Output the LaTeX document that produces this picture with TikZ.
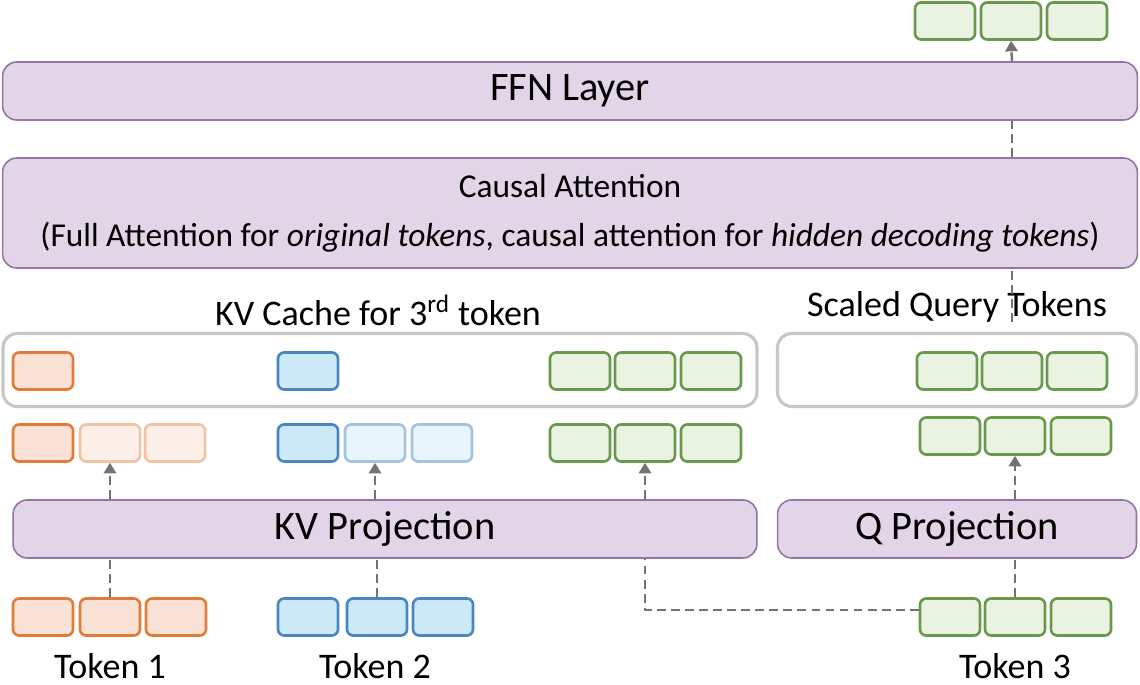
\documentclass[tikz,border=0pt]{standalone}
\usepackage{fontspec}
\setmainfont{Carlito}
\usetikzlibrary{arrows.meta}
\definecolor{layerfill}{HTML}{E1D5E7}
\definecolor{layerdraw}{HTML}{9673A6}
\definecolor{orgdraw}{HTML}{E07B39}
\definecolor{orgfill}{HTML}{FAE3D6}
\definecolor{bludraw}{HTML}{4A86C0}
\definecolor{blufill}{HTML}{CCE9F8}
\definecolor{grndraw}{HTML}{6A994E}
\definecolor{grnfill}{HTML}{EAF3E2}
\tikzset{
  layer/.style={rectangle,rounded corners=8pt,draw=layerdraw,fill=layerfill,line width=0.9pt,inner sep=0pt},
  cachebox/.style={rectangle,rounded corners=8pt,draw=black!22,line width=1.8pt,inner sep=0pt},
  cell/.style={rectangle,rounded corners=3.5pt,line width=1.5pt,minimum width=1.2cm,minimum height=0.74cm,inner sep=0pt},
  org/.style={cell,draw=orgdraw,fill=orgfill},
  orgl/.style={cell,draw=orgdraw!45,fill=orgfill!55},
  blu/.style={cell,draw=bludraw,fill=blufill},
  blul/.style={cell,draw=bludraw!50,fill=blufill!45},
  grn/.style={cell,draw=grndraw,fill=grnfill},
  flow/.style={draw=black!55,line width=1.4pt,dash pattern=on 5pt off 3pt},
  tip/.style={-{Triangle[length=6pt,width=7pt]}}
}
\newcommand{\cellat}[4]{\node[#1] (#2) at (#3,#4) {};}
\begin{document}
\begin{tikzpicture}[x=0.02cm,y=-0.02cm]
\useasboundingbox (0,0) rectangle (1140,685);
% layers
\node[layer,minimum width=22.7cm,minimum height=1.16cm] (ffn) at (570,91) {\fontsize{23}{26}\selectfont FFN Layer};
\node[layer,minimum width=22.7cm,minimum height=2.2cm,align=center,font=\fontsize{19}{26}\selectfont] (attn) at (570,213)
  {Causal Attention\\[2pt]
   (Full Attention for \emph{original tokens}, causal attention for \emph{hidden decoding tokens})};
\node[layer,minimum width=14.88cm,minimum height=1.16cm] (kvproj) at (385,529) {\fontsize{23}{26}\selectfont KV Projection};
\node[layer,minimum width=7.18cm,minimum height=1.16cm] (qproj) at (957,529) {\fontsize{23}{26}\selectfont Q Projection};
% caches
\node[cachebox,minimum width=15.08cm,minimum height=1.46cm] (kvcache) at (380,370) {};
\node[cachebox,minimum width=7.18cm,minimum height=1.46cm] (qcache) at (957,370) {};
\node (kvlabel) at (378,310) {\fontsize{20.5}{24}\selectfont KV Cache for 3\textsuperscript{rd} token};
\node (qlabel) at (957,307) {\fontsize{20.5}{24}\selectfont Scaled Query Tokens};
% cells in cache
\cellat{org}{c1}{43}{371}
\cellat{blu}{c2}{308}{371}
\cellat{grn}{c3a}{580}{371}
\cellat{grn}{c3b}{645}{371}
\cellat{grn}{c3c}{711}{371}
\cellat{grn}{qa}{947}{371}
\cellat{grn}{qb}{1012}{371}
\cellat{grn}{qc}{1077}{371}
% projected cells
\cellat{org}{k1a}{43}{443}
\cellat{orgl}{k1b}{110}{443}
\cellat{orgl}{k1c}{175}{443}
\cellat{blu}{k2a}{308}{443}
\cellat{blul}{k2b}{375}{443}
\cellat{blul}{k2c}{442}{443}
\cellat{grn}{k3a}{580}{443}
\cellat{grn}{k3b}{645}{443}
\cellat{grn}{k3c}{711}{443}
\cellat{grn}{pa}{950}{436}
\cellat{grn}{pb}{1015}{436}
\cellat{grn}{pc}{1081}{436}
% input tokens
\cellat{org}{t1a}{43}{617}
\cellat{org}{t1b}{110}{617}
\cellat{org}{t1c}{176}{617}
\cellat{blu}{t2a}{308}{617}
\cellat{blu}{t2b}{377}{617}
\cellat{blu}{t2c}{443}{617}
\cellat{grn}{t3a}{950}{617}
\cellat{grn}{t3b}{1015}{617}
\cellat{grn}{t3c}{1081}{617}
% output tokens
\cellat{grn}{oa}{945}{21}
\cellat{grn}{ob}{1011}{21}
\cellat{grn}{oc}{1077}{21}
\node (tok1) at (110,666) {\fontsize{20.5}{24}\selectfont Token 1};
\node (tok2) at (375,666) {\fontsize{20.5}{24}\selectfont Token 2};
\node (tok3) at (1015,666) {\fontsize{20.5}{24}\selectfont Token 3};
% connectors
\draw[flow] (t1b.north) -- (kvproj.south -| t1b);
\draw[flow,tip] (kvproj.north -| k1b) -- (k1b.south);
\draw[flow] (t2b.north) -- (kvproj.south -| t2b);
\draw[flow,tip] (kvproj.north -| k2b) -- (k2b.south);
\coordinate (bend) at (645,610);
\draw[flow] (t3a.west |- bend) -- (bend) -- (kvproj.south -| bend);
\draw[flow,tip] (kvproj.north -| k3b) -- (k3b.south);
\draw[flow] (t3b.north) -- (qproj.south -| t3b);
\draw[flow,tip] (qproj.north -| pb) -- (pb.south);
\coordinate (qtop) at (1012,322);
\draw[flow] (qtop) -- (attn.south -| qtop);
\draw[flow] (attn.north -| qtop) -- (ffn.south -| qtop);
\draw[flow,tip] (ffn.north -| qtop) -- (ob.south);
\end{tikzpicture}
\end{document}
